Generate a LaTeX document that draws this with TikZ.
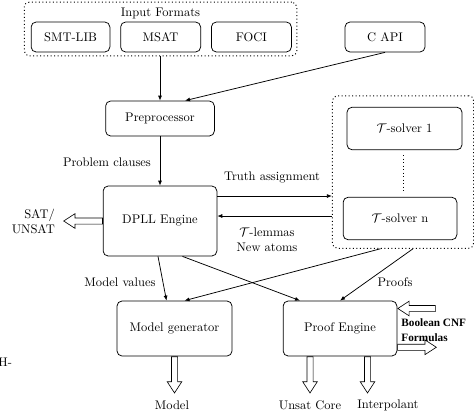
\documentclass[tikz,border=0pt]{standalone}
\usepackage{amsmath}
\usepackage{amssymb}
\usepackage{fontspec}
\newfontfamily\tmsfont{Liberation Serif}
\usepackage{tikz}
\usetikzlibrary{shapes.arrows,arrows.meta}
\usepackage{xcolor}
\begin{document}
\begin{tikzpicture}[x=0.8pt, y=-0.8pt, line width=0.6pt, >={Latex[length=4pt,width=3.2pt]},
        box/.style={rectangle,rounded corners=4pt,inner sep=0},
        group/.style={rectangle,rounded corners=4pt,dotted,line width=0.8pt,inner sep=0},
        fatarr/.style={single arrow,draw,inner sep=2.2pt,single arrow head extend=3.4pt,single arrow tip angle=66,line width=0.5pt}]
        \useasboundingbox (0,0) rectangle (474,413);
        \node at (160.5,29) [group,draw,minimum width=218pt,minimum height=43pt] (formats) {};
        \node at (160.5,13) (formatslabel) {Input Formats};
        \node at (70.5,37) [box,draw,minimum width=63pt,minimum height=24pt] (smtlib) {SMT-LIB};
        \node at (smtlib.east) [box,draw,anchor=west,xshift=8pt,minimum width=64pt,minimum height=24pt] (msat) {MSAT};
        \node at (msat.east) [box,draw,anchor=west,xshift=8pt,minimum width=64pt,minimum height=24pt] (foci) {FOCI};
        \node at (385,37) [box,draw,minimum width=64pt,minimum height=24pt] (capi) {C API};
        \node at (160,118.5) [box,draw,minimum width=87pt,minimum height=28pt] (pre) {Preprocessor};
        \node at (160,221) [box,draw,minimum width=91pt,minimum height=56pt] (dpll) {DPLL Engine};
        \node at (403,172) [group,draw,minimum width=113pt,minimum height=122pt] (sol) {};
        \node at (404.5,128.5) [box,draw,minimum width=92pt,minimum height=34pt] (ts1) {$\mathcal{T}$-solver 1};
        \node at (400,218.5) [box,draw,minimum width=91pt,minimum height=34pt] (tsn) {$\mathcal{T}$-solver n};
        \draw[dotted,line width=0.8pt,shorten <=4pt,shorten >=5pt] (ts1.south -| sol) -- (tsn.north -| sol);
        \node at (174.5,328.5) [box,draw,minimum width=92pt,minimum height=44pt] (mg) {Model generator};
        \node at (340,328.5) [box,draw,minimum width=91pt,minimum height=44pt] (pe) {Proof Engine};
        \draw[->] (formats.south -| pre) -- (pre.north);
        \draw[->] (capi.south) -- ([xshift=20pt]pre.north);
        \draw[->] (pre.south) -- (dpll.north);
        \node at (107,162) (clauses) {Problem clauses};
        \draw[->] ([yshift=20pt]dpll.east) -- ([yshift=20pt]dpll.east -| sol.west);
        \node at (272,177) (truth) {Truth assignment};
        \draw[->] ([yshift=4pt]dpll.east -| sol.west) -- ([yshift=4pt]dpll.east);
        \node at (267,240) [align=center] (lemmas) {$\mathcal{T}$-lemmas\\New atoms};
        \node at (dpll.west) [fatarr,shape border rotate=180,anchor=tail,minimum height=31pt] (satarr) {};
        \node at (satarr.tip) [anchor=east,align=right,xshift=-3pt] (sat) {SAT/\\UNSAT};
        \draw[->] ([xshift=-1.6pt]dpll.south) -- ([xshift=-6.4pt]mg.north);
        \draw[->] ([xshift=18pt]dpll.south) -- ([xshift=-32pt]pe.north);
        \draw[->] ([xshift=-18pt]sol.south) -- ([xshift=8pt]mg.north);
        \draw[->] ([xshift=8pt]sol.south) -- (pe.north);
        \node at (120,282) (values) {Model values};
        \node at (395,282) (proofs) {Proofs};
        \node at (mg.south) [fatarr,shape border rotate=270,anchor=tail,minimum height=29pt] (modelarr) {};
        \node at ([xshift=-24pt]pe.south) [fatarr,shape border rotate=270,anchor=tail,minimum height=29pt] (corearr) {};
        \node at ([xshift=22pt]pe.south) [fatarr,shape border rotate=270,anchor=tail,minimum height=29pt] (interarr) {};
        \node at (172,405) (model) {Model};
        \node at (310,405) (core) {Unsat Core};
        \node at (388,405) (inter) {Interpolant};
        \node at ([yshift=16pt]pe.east) [fatarr,shape border rotate=180,anchor=tip,minimum height=30pt] (cnfin) {};
        \node at ([yshift=-15pt]pe.east) [fatarr,anchor=tail,minimum height=31pt] (cnfout) {};
        \node at (401,330) [anchor=west,align=left,inner sep=0,font=\tmsfont\bfseries\fontsize{9}{12}\selectfont] (cnf) {Boolean CNF\\Formulas};
        \node at (-2,362) [anchor=west,inner sep=0] (cut) {H-};
    \end{tikzpicture}
\end{document}
